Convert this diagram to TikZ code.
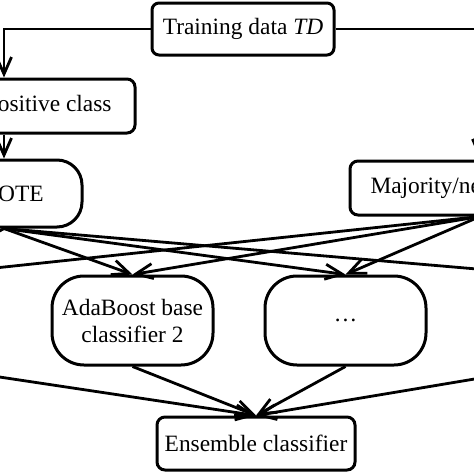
\documentclass[tikz,border=0pt]{standalone}
\usepackage{fontspec}
\setmainfont{Liberation Serif}
\usetikzlibrary{arrows.meta}
\begin{document}
\begin{tikzpicture}[x=1pt,y=-1pt,
  box/.style={draw=black, line width=3pt, fill=white, inner sep=0pt, align=center,
    font=\fontsize{23.4}{27}\selectfont},
  arr/.style={line width=2.8pt, -{Straight Barb[length=17pt,width=15pt]}},
  ln/.style={line width=2.8pt}]
\useasboundingbox (0,0) rectangle (474,474);
\clip (0,0) rectangle (474,474);
% nodes
\node[box, rounded corners=7pt, minimum width=182pt, minimum height=52pt] (train) at (243,29) {Training data \textit{TD}};
\node[box, rounded corners=8pt, minimum width=262pt, minimum height=54pt] (pos) at (4,106) {Minority/positive class};
\node[box, rounded corners=25pt, minimum width=156pt, minimum height=67pt] (smote) at (4,193.5) {SMOTE};
\node[box, rounded corners=8pt, minimum width=260pt, minimum height=54pt] (maj) at (480,188) {Majority/negative class};
\node[box, rounded corners=32pt, minimum width=161pt, minimum height=89pt] (ab2) at (132.5,320.5) {AdaBoost base\\classifier 2};
\node[box, rounded corners=32pt, minimum width=161pt, minimum height=89pt] (dots) at (345.5,320.5) {…};
\node[box, rounded corners=8pt, minimum width=198pt, minimum height=53pt] (ens) at (256,443.5) {Ensemble classifier};
% off-frame connector ends
\coordinate (abonetop) at (-80.5,276);
\coordinate (abonebot) at (-80.5,365);
\coordinate (abntop) at (558.5,276);
\coordinate (abnbot) at (558.5,365);
% connectors
\draw[arr] (train.west) -| (pos.north);
\draw[arr] (pos.south) -- (smote.north);
\draw[arr] (train.east) -| (maj.north);
\draw[arr] (smote.south) -- (abonetop);
\draw[arr] (smote.south) -- (ab2.north);
\draw[arr] (smote.south) -- (dots.north);
\draw[arr] (smote.south) -- (abntop);
\draw[arr] (maj.south) -- (abonetop);
\draw[arr] (maj.south) -- (ab2.north);
\draw[arr] (maj.south) -- (dots.north);
\draw[arr] (maj.south) -- (abntop);
\draw[arr] (abonebot) -- (ens.north);
\draw[arr] (ab2.south) -- (ens.north);
\draw[arr] (dots.south) -- (ens.north);
\draw[arr] (abnbot) -- (ens.north);
\end{tikzpicture}
\end{document}
